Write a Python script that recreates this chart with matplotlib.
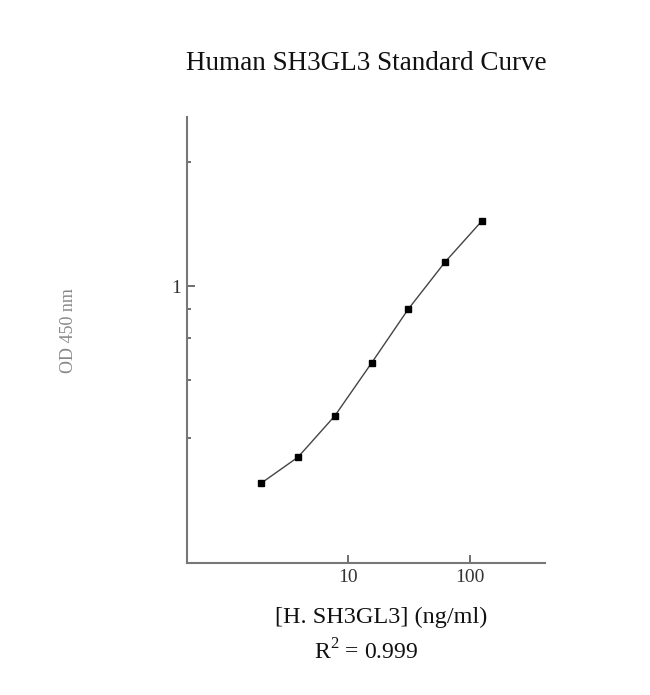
"""Human SH3GL3 ELISA standard curve (log-log)."""

import matplotlib
matplotlib.use("Agg")
import matplotlib.pyplot as plt
from matplotlib.ticker import FixedLocator, NullFormatter

# standard concentrations (ng/ml) and measured OD 450 nm
conc = [1.95, 3.9, 7.8, 15.6, 31.25, 62.5, 125]
od = [0.145, 0.187, 0.280, 0.470, 0.798, 1.265, 1.89]

x_major = [10, 100]
x_major_labels = ["10", "100"]
y_major = [1]
y_major_labels = ["1"]
y_minor = [3.37, 0.8, 0.6, 0.4, 0.225]

title = "Human SH3GL3 Standard Curve"
xlabel = "[H. SH3GL3] (ng/ml)"
ylabel = "OD 450 nm"
r2_text = "R$^2$ = 0.999"

plt.rcParams["font.family"] = ["Liberation Serif", "DejaVu Serif"]
plt.rcParams["mathtext.fontset"] = "custom"
plt.rcParams["mathtext.rm"] = "Liberation Serif"

fig = plt.figure(figsize=(6.5, 6.95), dpi=100)
ax = fig.add_axes([0.2877, 0.19, 0.5508, 0.6417])

ax.plot(conc, od, color="#444444", linewidth=1.0, zorder=2)
ax.plot(conc, od, linestyle="none", marker="s", markersize=5,
        color="black", zorder=3)

ax.set_xscale("log")
ax.set_yscale("log")
ax.set_xlim(0.48, 412)
ax.set_ylim(0.0663, 5.24)

ax.xaxis.set_major_locator(FixedLocator(x_major))
ax.set_xticklabels(x_major_labels)
ax.xaxis.set_minor_locator(FixedLocator([]))
ax.yaxis.set_major_locator(FixedLocator(y_major))
ax.set_yticklabels(y_major_labels)
ax.yaxis.set_minor_locator(FixedLocator(y_minor))
ax.yaxis.set_minor_formatter(NullFormatter())

for side in ("top", "right"):
    ax.spines[side].set_visible(False)
for side in ("left", "bottom"):
    ax.spines[side].set_color("#777777")
    ax.spines[side].set_linewidth(1.5)

ax.tick_params(which="major", direction="in", length=6, width=1.2,
               color="#555555", labelsize=14, labelcolor="#333333", pad=4)
ax.tick_params(which="minor", direction="in", length=3, width=1.2,
               color="#555555")

fig.text(0.563, 0.909, title, ha="center", va="center", fontsize=19.5,
         color="#111111")
fig.text(0.587, 0.112, xlabel, ha="center", va="center", fontsize=17.5,
         color="#111111")
fig.text(0.563, 0.062, r2_text, ha="center", va="center", fontsize=17,
         color="#111111")
fig.text(0.105, 0.525, ylabel, ha="center", va="center", fontsize=13,
         rotation=90, color="#888888")

fig.savefig("out.png", dpi=100)
